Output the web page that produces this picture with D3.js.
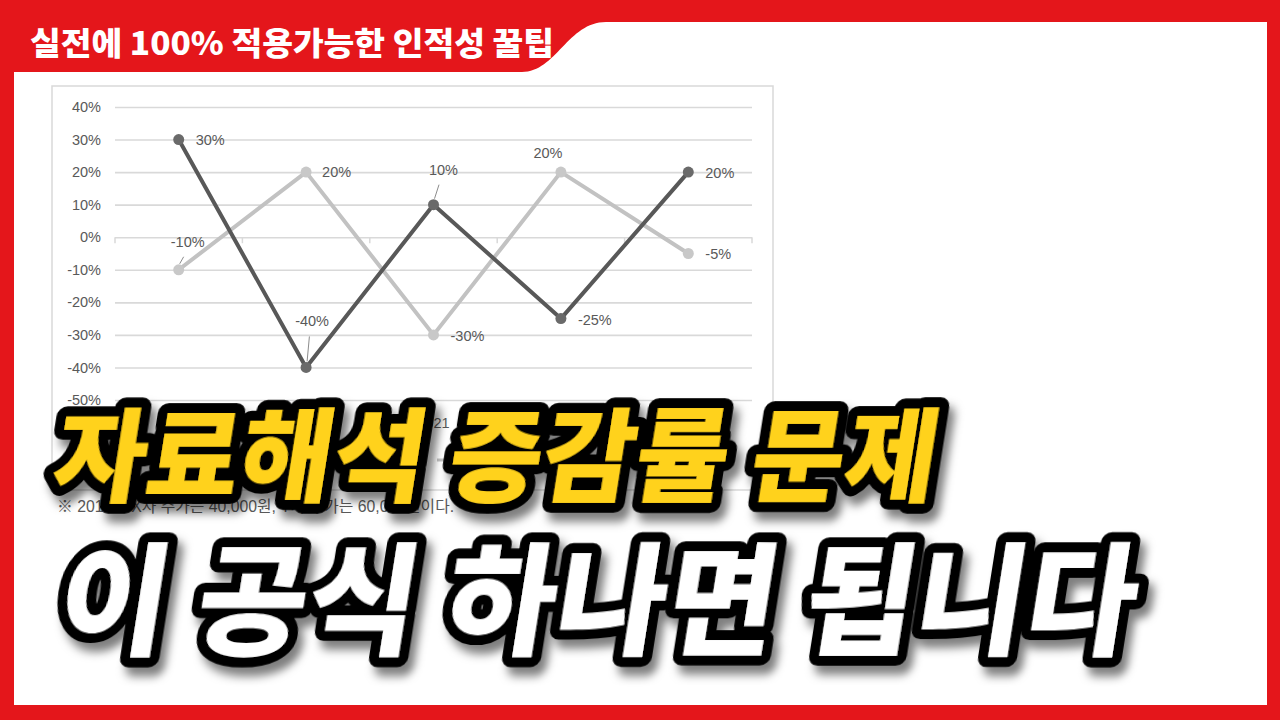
<!DOCTYPE html>
<html>
<head>
<meta charset="utf-8">
<script src="https://cdn.jsdelivr.net/npm/d3@7"></script>
<style>
  html, body { margin: 0; padding: 0; background: #fff; }
  svg { display: block; }
</style>
</head>
<body>
<svg id="chart" width="1280" height="720"></svg>
<script>
// ---------------- data ----------------
const headerText = "실전에 100% 적용가능한 인적성 꿀팁";
const titleLine1 = "자료해석 증감률 문제";
const titleLine2 = "이 공식 하나면 됩니다";
const categories = ["2019", "2020", "2021", "2022", "2023"];
const seriesNames = ["X사", "Y사"];
const seriesX = [0.30, -0.40, 0.10, -0.25, 0.20];
const seriesY = [-0.10, 0.20, -0.30, 0.20, -0.05];
const yTicks = [-0.5, -0.4, -0.3, -0.2, -0.1, 0, 0.1, 0.2, 0.3, 0.4];
const footnote = "※ 2019년 X사 주가는 40,000원, Y사 주가는 60,000원이다.";

// ---------------- layout (style) ----------------
const RED = "#E4161B";
const DARK = "#585858", LIGHT = "#c2c2c2", GRID = "#d9d9d9", TXT = "#595959";
// label offsets relative to each point [dx, dy, anchor, leader]
const labelLayoutX = [[17, 5, "start", false], [6, -41, "middle", true], [10, -30, "middle", true], [17, 6, "start", false], [17, 6, "start", false]];
const labelLayoutY = [[9, -23, "middle", true], [16, 5, "start", false], [17, 6, "start", false], [-13, -14, "middle", false], [17, 5, "start", false]];

const svg = d3.select("#chart");
const defs = svg.append("defs");
const f = defs.append("filter").attr("id", "shadow").attr("x", "-10%").attr("y", "-20%").attr("width", "130%").attr("height", "150%");
f.append("feDropShadow").attr("dx", 7).attr("dy", 9).attr("stdDeviation", 4.5).attr("flood-color", "#000").attr("flood-opacity", 0.5);

// background frame
svg.append("rect").attr("width", 1280).attr("height", 720).attr("fill", RED);
svg.append("path")
  .attr("d", "M14,72 H522 C556,72 568,22 606,22 H1267 V705 H14 Z")
  .attr("fill", "#fff");

svg.append("text")
  .attr("x", 30).attr("y", 55)
  .attr("font-family", "'Noto Sans CJK KR', sans-serif")
  .attr("font-weight", 900).attr("font-size", 32)
  .attr("fill", "#fff")
  .attr("textLength", 524).attr("lengthAdjust", "spacingAndGlyphs")
  .text(headerText);

// chart box
svg.append("rect").attr("x", 52).attr("y", 86).attr("width", 721).attr("height", 404)
  .attr("fill", "#fff").attr("stroke", "#d9d9d9").attr("stroke-width", 1.5);

const x = d3.scaleBand().domain(categories).range([115, 752]);
const y = d3.scaleLinear().domain([-0.5, 0.4]).range([400, 107]);
const cx = d => x(d) + x.bandwidth() / 2;
const chartFont = "'Liberation Sans', Arial, 'Noto Sans CJK KR', sans-serif";

const yAxis = svg.append("g").attr("transform", "translate(115,0)")
  .call(d3.axisLeft(y).tickValues(yTicks).tickSize(-(752 - 115)).tickPadding(14)
    .tickFormat(d => Math.round(d * 100) + "%"));
yAxis.select(".domain").remove();
yAxis.selectAll(".tick line").attr("stroke", GRID).attr("stroke-width", 1.6);
yAxis.selectAll(".tick text").attr("fill", TXT).attr("font-size", 14.5).attr("font-family", chartFont);

// category boundary ticks on the zero line
const bounds = d3.range(categories.length + 1).map(i => x.range()[0] + i * x.step());
svg.append("g").selectAll("line").data(bounds).join("line")
  .attr("x1", d => d).attr("x2", d => d)
  .attr("y1", y(0)).attr("y2", y(0) + 6)
  .attr("stroke", GRID).attr("stroke-width", 1.5);

// category labels
svg.append("g").selectAll("text").data(categories).join("text")
  .attr("x", d => cx(d)).attr("y", 428)
  .attr("text-anchor", "middle").attr("font-size", 14.5).attr("font-family", chartFont)
  .attr("fill", TXT).text(d => d);

// series
const line = d3.line().x((d, i) => cx(categories[i])).y(d => y(d));
function drawSeries(vals, color, markerColor, layout) {
  svg.append("path").datum(vals).attr("d", line)
    .attr("fill", "none").attr("stroke", color).attr("stroke-width", 4).attr("stroke-linejoin", "round");
  svg.append("g").selectAll("circle").data(vals).join("circle")
    .attr("cx", (d, i) => cx(categories[i])).attr("cy", d => y(d)).attr("r", 5.5)
    .attr("fill", markerColor);
  const g = svg.append("g");
  vals.forEach((v, i) => {
    const px = cx(categories[i]), py = y(v), L = layout[i];
    if (L[3]) {
      g.append("line")
        .attr("x1", px + L[0] * 0.55).attr("y1", py + L[1] + 10)
        .attr("x2", px + 1).attr("y2", py - 6)
        .attr("stroke", "#8c8c8c").attr("stroke-width", 1);
    }
    g.append("text").attr("x", px + L[0]).attr("y", py + L[1])
      .attr("text-anchor", L[2]).attr("font-size", 14.5).attr("font-family", chartFont)
      .attr("fill", TXT).text(Math.round(v * 100) + "%");
  });
}
drawSeries(seriesY, LIGHT, "#c8c8c8", labelLayoutY);
drawSeries(seriesX, DARK, "#6a6a6a", labelLayoutX);

// legend
const legendColors = [DARK, LIGHT];
const lg = svg.append("g").selectAll("g").data(seriesNames).join("g")
  .attr("transform", (d, i) => `translate(${375 + i * 62},460)`);
lg.append("line").attr("x1", 0).attr("x2", 22).attr("stroke", (d, i) => legendColors[i]).attr("stroke-width", 3);
lg.append("circle").attr("cx", 11).attr("r", 4).attr("fill", (d, i) => legendColors[i]);
lg.append("text").attr("x", 27).attr("y", 5).attr("font-size", 14.5).attr("font-family", chartFont)
  .attr("fill", TXT).text(d => d);

// footnote
svg.append("text").attr("x", 57).attr("y", 512).attr("font-size", 15.8).attr("font-family", chartFont)
  .attr("fill", TXT).text(footnote);

// big titles
function bigText(txt, x0, y0, size, len, fill, adjust) {
  const g = svg.append("g").attr("filter", "url(#shadow)")
    .attr("transform", `translate(${x0},${y0}) skewX(-9)`);
  g.append("text").attr("x", 0).attr("y", 0)
    .attr("font-family", "'Noto Sans CJK KR', sans-serif").attr("font-weight", 900)
    .attr("font-size", size)
    .attr("textLength", len).attr("lengthAdjust", adjust)
    .attr("fill", fill).attr("stroke", "#000").attr("stroke-width", 20)
    .attr("stroke-linejoin", "round").attr("paint-order", "stroke")
    .text(txt);
}
bigText(titleLine1, 49, 494, 102, 884, "#FFD21C", "spacingAndGlyphs");
bigText(titleLine2, 53, 645, 121, 1078, "#FFFFFF", "spacingAndGlyphs");
</script>
</body>
</html>
